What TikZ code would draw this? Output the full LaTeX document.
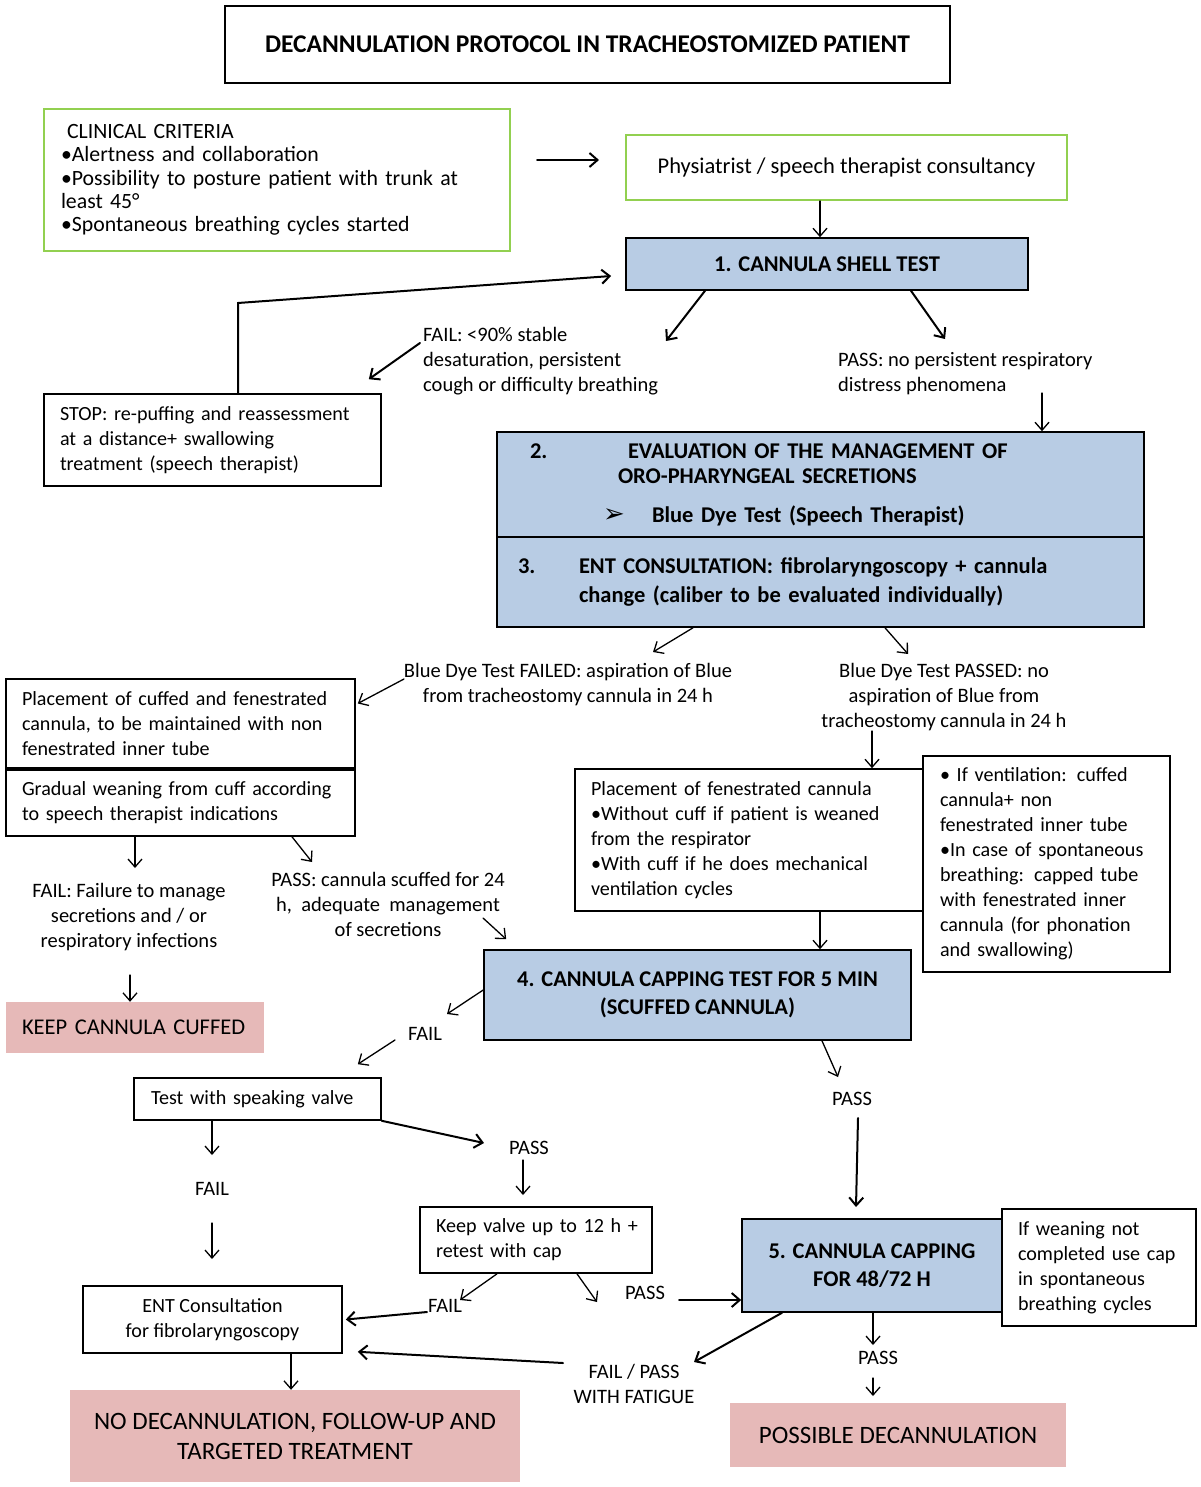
\documentclass[tikz,border=0pt]{standalone}
\usepackage{fontspec}
\setmainfont{Carlito}
\newfontfamily\dingfont{DejaVu Sans}
\usetikzlibrary{arrows.meta}
\definecolor{critgreen}{RGB}{146,208,80}
\definecolor{stepblue}{RGB}{184,204,228}
\definecolor{endpink}{RGB}{230,185,184}
\newcommand{\fsz}[2]{\fontsize{#1}{#2}\selectfont}
\tikzset{
  box/.style={draw, line width=1.6pt, inner ysep=0pt, inner xsep=16pt, align=left},
  gbox/.style={box, draw=critgreen, line width=2pt},
  bbox/.style={box, fill=stepblue, align=center, font=\bfseries\fsz{22.5}{28}},
  pbox/.style={inner ysep=0pt, inner xsep=16pt, fill=endpink},
  lbl/.style={inner sep=0pt, align=center, font=\fsz{20.5}{25}},
  arr/.style={-{Straight Barb[length=8pt,width=14pt]}, line width=1.3pt},
  arrb/.style={arr, line width=2pt},
}
\begin{document}
\begin{tikzpicture}[x=1pt, y=-1pt, font=\fsz{20.1}{25}, line cap=round]
\path[use as bounding box, fill=white] (0,0) rectangle (1200,1487);

% boxes
\node[box, minimum width=725pt, minimum height=77pt, align=center, font=\bfseries\fsz{25.5}{28}] (title) at (587.5,44.5) {DECANNULATION PROTOCOL IN TRACHEOSTOMIZED PATIENT};
\node[gbox, inner xsep=17pt, text width=432pt, minimum height=142pt, font=\fsz{21.8}{23.3}] (crit) at (277,180)
  {\hspace*{6pt}CLINICAL CRITERIA\\
   •Alertness and collaboration\\
   •Possibility to posture patient with trunk at\\
   least 45°\\
   •Spontaneous breathing cycles started};
\node[gbox, minimum width=441pt, minimum height=65pt, align=center, font=\fsz{22.5}{25}] (phys) at (846.5,167.5) {Physiatrist / speech therapist consultancy};
\node[bbox, minimum width=402pt, minimum height=52pt] (b1) at (827,264) {1. CANNULA SHELL TEST};
\node[box, text width=305pt, minimum height=92pt] (stop) at (212.5,440)
  {STOP: re-puffing and reassessment\\at a distance+ swallowing\\treatment (speech therapist)};
\node[box, fill=stepblue, font=\bfseries\fsz{22.5}{25}, inner xsep=33pt, text width=581pt, minimum height=105pt] (b2) at (820.5,484.5)
  {\makebox[98pt][l]{2.}EVALUATION OF THE MANAGEMENT OF\\
   \hspace*{88pt}ORO-PHARYNGEAL SECRETIONS\\[14pt]
   \hspace*{73pt}\makebox[49pt][l]{\dingfont\mdseries\fsz{26}{26}➢}Blue Dye Test (Speech Therapist)};
\node[box, fill=stepblue, font=\bfseries\fsz{22.5}{25}, inner xsep=21pt, text width=605pt, minimum height=90pt] (b3) at (820.5,582)
  {\makebox[61pt][l]{3.}ENT CONSULTATION: fibrolaryngoscopy + cannula\\[4pt]
   \hspace*{61pt}change (caliber to be evaluated individually)};
\node[box, text width=317pt, minimum height=89pt] (boxA) at (180.5,723.5)
  {Placement of cuffed and fenestrated\\cannula, to be maintained with non\\fenestrated inner tube};
\node[box, text width=317pt, minimum height=66pt] (boxB) at (180.5,803)
  {Gradual weaning from cuff according\\to speech therapist indications};
\node[pbox, text width=226pt, minimum height=51pt, align=left, font=\fsz{22.5}{25}] (keep) at (135,1027.5) {KEEP CANNULA CUFFED};
\node[box, text width=316pt, minimum height=142pt] (boxC) at (749,840)
  {Placement of fenestrated cannula\\•Without cuff if patient is weaned\\from the respirator\\•With cuff if he does mechanical\\ventilation cycles};
\node[box, inner xsep=17pt, text width=213pt, minimum height=216pt] (boxD) at (1046.5,864)
  {• If ventilation: cuffed\\cannula+ non\\fenestrated inner tube\\•In case of spontaneous\\breathing: capped tube\\with fenestrated inner\\cannula (for phonation\\and swallowing)};
\node[bbox, minimum width=427pt, minimum height=90pt] (b4) at (697.5,995) {4. CANNULA CAPPING TEST FOR 5 MIN\\(SCUFFED CANNULA)};
\node[box, inner xsep=17pt, text width=213pt, minimum height=42pt] (valve) at (257.5,1099) {Test with speaking valve};
\node[box, text width=200pt, minimum height=66pt] (keepv) at (536,1240) {\mbox{Keep valve up to 12 h +}\\retest with cap};
\node[box, minimum width=259pt, minimum height=67pt, align=center] (ent) at (212.5,1319.5) {ENT Consultation\\for fibrolaryngoscopy};
\node[bbox, minimum width=260pt, minimum height=93pt] (b5) at (872,1265.5) {5. CANNULA CAPPING\\FOR 48/72 H};
\node[box, text width=162pt, minimum height=117pt] (boxE) at (1099,1267.5)
  {If weaning not\\completed use cap\\in spontaneous\\breathing cycles};
\node[pbox, minimum width=450pt, minimum height=92pt, align=center, font=\fsz{25}{30}] (nodec) at (295,1436) {NO DECANNULATION, FOLLOW-UP AND\\TARGETED TREATMENT};
\node[pbox, minimum width=336pt, minimum height=64pt, font=\fsz{25}{30}] (posd) at (898,1435) {POSSIBLE DECANNULATION};

% labels
\node[lbl, anchor=west, align=left] (failA) at (423,361) {FAIL: <90\% stable\\desaturation, persistent\\cough or difficulty breathing};
\node[lbl, anchor=west, align=left] (passA) at (838,373.5) {PASS: no persistent respiratory\\distress phenomena};
\node[lbl] (failB) at (568,684.5) {Blue Dye Test FAILED: aspiration of Blue\\from tracheostomy cannula in 24 h};
\node[lbl] (passB) at (944,697) {Blue Dye Test PASSED: no\\aspiration of Blue from\\tracheostomy cannula in 24 h};
\node[lbl] (failC) at (129,917) {FAIL: Failure to manage\\secretions and / or\\respiratory infections};
\node[lbl] (passC) at (388,904.5) {PASS: cannula scuffed for 24\\h,\ \ adequate\ \ management\\of secretions};
\node[lbl] (failD) at (425,1034) {FAIL};
\node[lbl] (passD) at (852,1099) {PASS};
\node[lbl] (failE) at (212,1189) {FAIL};
\node[lbl] (passE) at (529,1148) {PASS};
\node[lbl] (failF) at (445,1306) {FAIL};
\node[lbl] (passF) at (645,1293) {PASS};
\node[lbl] (fatig) at (634,1383.5) {FAIL / PASS\\WITH FATIGUE};
\node[lbl] (passG) at (878,1358) {PASS};

% free ends
\coordinate (loopc) at (238,303);
\coordinate (fa1) at (666,341);   \coordinate (pa1) at (945,339);
\coordinate (pa2) at (1042,393);
\coordinate (fb1) at (653,652);   \coordinate (pb1) at (908,654);
\coordinate (fb2) at (404,679);   \coordinate (pb2) at (872,731);
\coordinate (fc1) at (135,868);   \coordinate (pc1) at (312,862);
\coordinate (fc2) at (130,975);   \coordinate (pc2) at (483,918);
\coordinate (fd1) at (447,1014);  \coordinate (fd2) at (395,1040);
\coordinate (pd1) at (838,1077);  \coordinate (pd2) at (858,1118);
\coordinate (pd3) at (856,1207);
\coordinate (fe1) at (212,1155);  \coordinate (fe2) at (212,1223);
\coordinate (fe3) at (212,1259);
\coordinate (pe1) at (484,1143);  \coordinate (pe2) at (523,1160);
\coordinate (pe3) at (523,1195);
\coordinate (ff1) at (460,1300);  \coordinate (ff2) at (427,1312);
\coordinate (pf1) at (597,1302);  \coordinate (pf2) at (679,1300);
\coordinate (fp1) at (694,1362);  \coordinate (fp2) at (563,1363);
\coordinate (pg1) at (873,1345);  \coordinate (pg2) at (873,1378);
\coordinate (pg3) at (873,1396);

% connectors
\draw[arrb] ([xshift=26pt,yshift=20pt]crit.east) -- ([xshift=-26pt,yshift=7.5pt]phys.west);
\draw[arr] (phys.south -| 820,0) -- (b1.north -| 820,0);
\draw[arrb] (stop.north -| 238,0) -- (loopc) -- ([xshift=-14pt,yshift=-12pt]b1.west);
\draw[arrb] (b1.south -| 705,0) -- (fa1);
\draw[arrb] (b1.south -| 911,0) -- (pa1);
\draw[arrb] ([xshift=-3pt,yshift=18pt]failA.west) -- ([xshift=-13pt,yshift=14pt]stop.north east);
\draw[arr] (pa2) -- (b2.north -| 1042,0);
\draw[arr] (b3.south -| 693,0) -- (fb1);
\draw[arr] (b3.south -| 885,0) -- (pb1);
\draw[arr] (fb2) -- ([xshift=2pt,yshift=20pt]boxA.east);
\draw[arr] (pb2) -- (boxC.north -| 872,0);
\draw[arr] (boxB.south -| 135,0) -- (fc1);
\draw[arr] (boxB.south -| 292,0) -- (pc1);
\draw[arr] (fc2) -- (keep.north -| 130,0);
\draw[arr] (pc2) -- ([xshift=23pt,yshift=10pt]b4.north west);
\draw[arr] (boxC.south -| 820,0) -- (b4.north -| 820,0);
\draw[arr] ([yshift=5pt]b4.west) -- (fd1);
\draw[arr] (fd2) -- ([xshift=-24pt,yshift=13pt]valve.north east);
\draw[arr] (b4.south -| 822,0) -- (pd1);
\draw[arrb] (pd2) -- (pd3);
\draw[arr] (valve.south -| 212,0) -- (fe1);
\draw[arr] (fe2) -- (fe3);
\draw[arrb] (valve.south east) -- (pe1);
\draw[arr] (pe2) -- (pe3);
\draw[arr] (keepv.south -| 497,0) -- (ff1);
\draw[arrb] (ff2) -- ([xshift=3pt]ent.east);
\draw[arr] (keepv.south -| 577,0) -- (pf1);
\draw[arrb] (pf2) -- (b5.west |- 0,1300);
\draw[arrb] (b5.south -| 782,0) -- (fp1);
\draw[arrb] (fp2) -- ([xshift=15pt,yshift=2pt]ent.south east);
\draw[arr] (b5.south -| 873,0) -- (pg1);
\draw[arr] (pg2) -- (pg3);
\draw[arr] (ent.south -| 291,0) -- (nodec.north -| 291,0);
\end{tikzpicture}
\end{document}
